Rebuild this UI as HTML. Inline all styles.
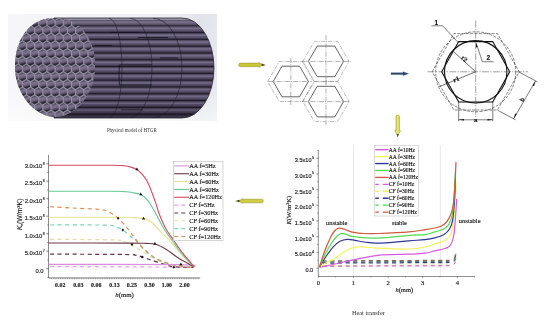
<!DOCTYPE html>
<html><head><meta charset="utf-8"><title>HTGR</title>
<style>html,body{margin:0;padding:0;background:#fff;}svg{display:block;}text{stroke:#222;stroke-width:0.16px;}</style>
</head><body>
<svg width="550" height="323" viewBox="0 0 550 323">
<defs>
<linearGradient id="panel" x1="0" y1="0" x2="1" y2="0">
 <stop offset="0" stop-color="#f6f6f8"/><stop offset="0.75" stop-color="#efeff3"/><stop offset="0.92" stop-color="#e2e3ea"/><stop offset="1" stop-color="#e6e7ee"/>
</linearGradient>
<linearGradient id="panel2" x1="0" y1="0" x2="0" y2="1">
 <stop offset="0" stop-color="#fff" stop-opacity="0"/><stop offset="0.7" stop-color="#fff" stop-opacity="0.1"/><stop offset="1" stop-color="#fff" stop-opacity="0.6"/>
</linearGradient>
<pattern id="tubes" patternUnits="userSpaceOnUse" x="0" y="18.5" width="10" height="6.8">
 <rect width="10" height="6.8" fill="#423a51"/>
 <rect y="0" width="10" height="1.2" fill="#1c1923"/>
 <rect y="1.2" width="10" height="1.0" fill="#544a65"/>
 <rect y="2.2" width="10" height="2.1" fill="#78708c"/>
 <rect y="4.3" width="10" height="1.2" fill="#615876"/>
</pattern>
<linearGradient id="shade" x1="0" y1="0" x2="0" y2="1">
 <stop offset="0" stop-color="#ffffff" stop-opacity="0.18"/><stop offset="0.2" stop-color="#000" stop-opacity="0"/><stop offset="0.8" stop-color="#000" stop-opacity="0.05"/><stop offset="1" stop-color="#000" stop-opacity="0.3"/>
</linearGradient>
<linearGradient id="cell" x1="0.3" y1="0" x2="0.5" y2="1">
 <stop offset="0" stop-color="#443e50"/><stop offset="0.15" stop-color="#564e64"/><stop offset="0.3" stop-color="#7a7189"/><stop offset="0.52" stop-color="#746a85"/><stop offset="0.68" stop-color="#544b62"/><stop offset="0.82" stop-color="#2b2634"/><stop offset="1" stop-color="#3a3545"/>
</linearGradient>
</defs>
<rect width="550" height="323" fill="#fff"/>
<rect x="8" y="14" width="209" height="107" fill="url(#panel)"/>
<rect x="8" y="14" width="209" height="107" fill="url(#panel2)"/>
<path d="M54,18 L182,18 A32,50 0 0 1 182,118 L54,118 Z" fill="url(#tubes)"/>
<path d="M54,18 L182,18 A32,50 0 0 1 182,118 L54,118 Z" fill="url(#shade)"/>
<clipPath id="bodyclip"><path d="M54,18 L182,18 A32,50 0 0 1 182,118 L54,118 Z"/></clipPath>
<path d="M119.4,64.9 H152 M119.4,85 H152 M119.4,64.9 Q118.6,75 119.4,85 M110,32.4 H139.5 M138,37.5 H168 M121,109.8 H143 M95,45.5 H112 M160,58 H178" fill="none" stroke="#16131c" stroke-width="1" opacity="0.8"/>
<g clip-path="url(#bodyclip)"><rect x="54" y="18" width="170" height="2.3" fill="#a09eb0" opacity="0.85"/><rect x="54" y="20.3" width="170" height="1" fill="#3a3648" opacity="0.7"/><rect x="54" y="114" width="170" height="4" fill="#1e1b26" opacity="0.45"/></g>
<path d="M109,18.3 A13,49.7 0 0 1 109,117.7" fill="none" stroke="#1e1c28" stroke-width="0.6"/>
<path d="M130,18.3 A22,49.7 0 0 1 130,117.7" fill="none" stroke="#1e1c28" stroke-width="0.6"/>
<path d="M153,18.3 A29,49.7 0 0 1 153,117.7" fill="none" stroke="#1e1c28" stroke-width="0.6"/>
<path d="M54,18 L182,18 A32,50 0 0 1 182,118 L54,118 Z" fill="none" stroke="#2a2834" stroke-width="0.8"/>
<clipPath id="faceclip"><path d="M95,67.5 L94.84,71.29 L94.36,75.34 L93.57,79.43 L92.46,83.5 L91.07,87.49 L89.38,91.36 L87.42,95.07 L85.21,98.59 L82.77,101.87 L80.12,104.89 L77.28,107.62 L74.28,110.04 L71.16,112.13 L67.93,113.86 L64.64,115.23 L61.33,116.21 L58.07,116.8 L55,117 L51.93,116.8 L48.67,116.21 L45.36,115.23 L42.07,113.86 L38.84,112.13 L35.72,110.04 L32.72,107.62 L29.88,104.89 L27.23,101.87 L24.79,98.59 L22.58,95.07 L20.62,91.36 L18.93,87.49 L17.54,83.5 L16.43,79.43 L15.64,75.34 L15.16,71.29 L15,67.5 L15.14,62.11 L15.55,57.42 L16.24,53.01 L17.2,48.84 L18.42,44.88 L19.9,41.14 L21.63,37.64 L23.61,34.38 L25.81,31.38 L28.23,28.65 L30.87,26.21 L33.7,24.07 L36.72,22.23 L39.92,20.72 L43.29,19.54 L46.86,18.68 L50.65,18.2 L55,18.2 L59.35,18.2 L63.14,18.68 L66.71,19.54 L70.08,20.72 L73.28,22.23 L76.3,24.07 L79.13,26.21 L81.77,28.65 L84.19,31.38 L86.39,34.38 L88.37,37.64 L90.1,41.14 L91.58,44.88 L92.8,48.84 L93.76,53.01 L94.45,57.42 L94.86,62.11 L95,67.5 Z"/></clipPath>
<path d="M95,67.5 L94.84,71.29 L94.36,75.34 L93.57,79.43 L92.46,83.5 L91.07,87.49 L89.38,91.36 L87.42,95.07 L85.21,98.59 L82.77,101.87 L80.12,104.89 L77.28,107.62 L74.28,110.04 L71.16,112.13 L67.93,113.86 L64.64,115.23 L61.33,116.21 L58.07,116.8 L55,117 L51.93,116.8 L48.67,116.21 L45.36,115.23 L42.07,113.86 L38.84,112.13 L35.72,110.04 L32.72,107.62 L29.88,104.89 L27.23,101.87 L24.79,98.59 L22.58,95.07 L20.62,91.36 L18.93,87.49 L17.54,83.5 L16.43,79.43 L15.64,75.34 L15.16,71.29 L15,67.5 L15.14,62.11 L15.55,57.42 L16.24,53.01 L17.2,48.84 L18.42,44.88 L19.9,41.14 L21.63,37.64 L23.61,34.38 L25.81,31.38 L28.23,28.65 L30.87,26.21 L33.7,24.07 L36.72,22.23 L39.92,20.72 L43.29,19.54 L46.86,18.68 L50.65,18.2 L55,18.2 L59.35,18.2 L63.14,18.68 L66.71,19.54 L70.08,20.72 L73.28,22.23 L76.3,24.07 L79.13,26.21 L81.77,28.65 L84.19,31.38 L86.39,34.38 L88.37,37.64 L90.1,41.14 L91.58,44.88 L92.8,48.84 L93.76,53.01 L94.45,57.42 L94.86,62.11 L95,67.5 Z" fill="#9391a3"/>
<g clip-path="url(#faceclip)">
<path d="M14.1,10.7 L17.65,12.95 L17.65,17.45 L14.1,19.7 L10.55,17.45 L10.55,12.95 Z" fill="url(#cell)"/>
<path d="M22.3,10.7 L25.85,12.95 L25.85,17.45 L22.3,19.7 L18.75,17.45 L18.75,12.95 Z" fill="url(#cell)"/>
<path d="M30.5,10.7 L34.05,12.95 L34.05,17.45 L30.5,19.7 L26.95,17.45 L26.95,12.95 Z" fill="url(#cell)"/>
<path d="M38.7,10.7 L42.25,12.95 L42.25,17.45 L38.7,19.7 L35.15,17.45 L35.15,12.95 Z" fill="url(#cell)"/>
<path d="M46.9,10.7 L50.45,12.95 L50.45,17.45 L46.9,19.7 L43.35,17.45 L43.35,12.95 Z" fill="url(#cell)"/>
<path d="M55.1,10.7 L58.65,12.95 L58.65,17.45 L55.1,19.7 L51.55,17.45 L51.55,12.95 Z" fill="url(#cell)"/>
<path d="M63.3,10.7 L66.85,12.95 L66.85,17.45 L63.3,19.7 L59.75,17.45 L59.75,12.95 Z" fill="url(#cell)"/>
<path d="M71.5,10.7 L75.05,12.95 L75.05,17.45 L71.5,19.7 L67.95,17.45 L67.95,12.95 Z" fill="url(#cell)"/>
<path d="M79.7,10.7 L83.25,12.95 L83.25,17.45 L79.7,19.7 L76.15,17.45 L76.15,12.95 Z" fill="url(#cell)"/>
<path d="M87.9,10.7 L91.45,12.95 L91.45,17.45 L87.9,19.7 L84.35,17.45 L84.35,12.95 Z" fill="url(#cell)"/>
<path d="M96.1,10.7 L99.65,12.95 L99.65,17.45 L96.1,19.7 L92.55,17.45 L92.55,12.95 Z" fill="url(#cell)"/>
<path d="M10,18.4 L13.55,20.65 L13.55,25.15 L10,27.4 L6.45,25.15 L6.45,20.65 Z" fill="url(#cell)"/>
<path d="M18.2,18.4 L21.75,20.65 L21.75,25.15 L18.2,27.4 L14.65,25.15 L14.65,20.65 Z" fill="url(#cell)"/>
<path d="M26.4,18.4 L29.95,20.65 L29.95,25.15 L26.4,27.4 L22.85,25.15 L22.85,20.65 Z" fill="url(#cell)"/>
<path d="M34.6,18.4 L38.15,20.65 L38.15,25.15 L34.6,27.4 L31.05,25.15 L31.05,20.65 Z" fill="url(#cell)"/>
<path d="M42.8,18.4 L46.35,20.65 L46.35,25.15 L42.8,27.4 L39.25,25.15 L39.25,20.65 Z" fill="url(#cell)"/>
<path d="M51,18.4 L54.55,20.65 L54.55,25.15 L51,27.4 L47.45,25.15 L47.45,20.65 Z" fill="url(#cell)"/>
<path d="M59.2,18.4 L62.75,20.65 L62.75,25.15 L59.2,27.4 L55.65,25.15 L55.65,20.65 Z" fill="url(#cell)"/>
<path d="M67.4,18.4 L70.95,20.65 L70.95,25.15 L67.4,27.4 L63.85,25.15 L63.85,20.65 Z" fill="url(#cell)"/>
<path d="M75.6,18.4 L79.15,20.65 L79.15,25.15 L75.6,27.4 L72.05,25.15 L72.05,20.65 Z" fill="url(#cell)"/>
<path d="M83.8,18.4 L87.35,20.65 L87.35,25.15 L83.8,27.4 L80.25,25.15 L80.25,20.65 Z" fill="url(#cell)"/>
<path d="M92,18.4 L95.55,20.65 L95.55,25.15 L92,27.4 L88.45,25.15 L88.45,20.65 Z" fill="url(#cell)"/>
<path d="M100.2,18.4 L103.75,20.65 L103.75,25.15 L100.2,27.4 L96.65,25.15 L96.65,20.65 Z" fill="url(#cell)"/>
<path d="M14.1,26.1 L17.65,28.35 L17.65,32.85 L14.1,35.1 L10.55,32.85 L10.55,28.35 Z" fill="url(#cell)"/>
<path d="M22.3,26.1 L25.85,28.35 L25.85,32.85 L22.3,35.1 L18.75,32.85 L18.75,28.35 Z" fill="url(#cell)"/>
<path d="M30.5,26.1 L34.05,28.35 L34.05,32.85 L30.5,35.1 L26.95,32.85 L26.95,28.35 Z" fill="url(#cell)"/>
<path d="M38.7,26.1 L42.25,28.35 L42.25,32.85 L38.7,35.1 L35.15,32.85 L35.15,28.35 Z" fill="url(#cell)"/>
<path d="M46.9,26.1 L50.45,28.35 L50.45,32.85 L46.9,35.1 L43.35,32.85 L43.35,28.35 Z" fill="url(#cell)"/>
<path d="M55.1,26.1 L58.65,28.35 L58.65,32.85 L55.1,35.1 L51.55,32.85 L51.55,28.35 Z" fill="url(#cell)"/>
<path d="M63.3,26.1 L66.85,28.35 L66.85,32.85 L63.3,35.1 L59.75,32.85 L59.75,28.35 Z" fill="url(#cell)"/>
<path d="M71.5,26.1 L75.05,28.35 L75.05,32.85 L71.5,35.1 L67.95,32.85 L67.95,28.35 Z" fill="url(#cell)"/>
<path d="M79.7,26.1 L83.25,28.35 L83.25,32.85 L79.7,35.1 L76.15,32.85 L76.15,28.35 Z" fill="url(#cell)"/>
<path d="M87.9,26.1 L91.45,28.35 L91.45,32.85 L87.9,35.1 L84.35,32.85 L84.35,28.35 Z" fill="url(#cell)"/>
<path d="M96.1,26.1 L99.65,28.35 L99.65,32.85 L96.1,35.1 L92.55,32.85 L92.55,28.35 Z" fill="url(#cell)"/>
<path d="M10,33.8 L13.55,36.05 L13.55,40.55 L10,42.8 L6.45,40.55 L6.45,36.05 Z" fill="url(#cell)"/>
<path d="M18.2,33.8 L21.75,36.05 L21.75,40.55 L18.2,42.8 L14.65,40.55 L14.65,36.05 Z" fill="url(#cell)"/>
<path d="M26.4,33.8 L29.95,36.05 L29.95,40.55 L26.4,42.8 L22.85,40.55 L22.85,36.05 Z" fill="url(#cell)"/>
<path d="M34.6,33.8 L38.15,36.05 L38.15,40.55 L34.6,42.8 L31.05,40.55 L31.05,36.05 Z" fill="url(#cell)"/>
<path d="M42.8,33.8 L46.35,36.05 L46.35,40.55 L42.8,42.8 L39.25,40.55 L39.25,36.05 Z" fill="url(#cell)"/>
<path d="M51,33.8 L54.55,36.05 L54.55,40.55 L51,42.8 L47.45,40.55 L47.45,36.05 Z" fill="url(#cell)"/>
<path d="M59.2,33.8 L62.75,36.05 L62.75,40.55 L59.2,42.8 L55.65,40.55 L55.65,36.05 Z" fill="url(#cell)"/>
<path d="M67.4,33.8 L70.95,36.05 L70.95,40.55 L67.4,42.8 L63.85,40.55 L63.85,36.05 Z" fill="url(#cell)"/>
<path d="M75.6,33.8 L79.15,36.05 L79.15,40.55 L75.6,42.8 L72.05,40.55 L72.05,36.05 Z" fill="url(#cell)"/>
<path d="M83.8,33.8 L87.35,36.05 L87.35,40.55 L83.8,42.8 L80.25,40.55 L80.25,36.05 Z" fill="url(#cell)"/>
<path d="M92,33.8 L95.55,36.05 L95.55,40.55 L92,42.8 L88.45,40.55 L88.45,36.05 Z" fill="url(#cell)"/>
<path d="M100.2,33.8 L103.75,36.05 L103.75,40.55 L100.2,42.8 L96.65,40.55 L96.65,36.05 Z" fill="url(#cell)"/>
<path d="M14.1,41.5 L17.65,43.75 L17.65,48.25 L14.1,50.5 L10.55,48.25 L10.55,43.75 Z" fill="url(#cell)"/>
<path d="M22.3,41.5 L25.85,43.75 L25.85,48.25 L22.3,50.5 L18.75,48.25 L18.75,43.75 Z" fill="url(#cell)"/>
<path d="M30.5,41.5 L34.05,43.75 L34.05,48.25 L30.5,50.5 L26.95,48.25 L26.95,43.75 Z" fill="url(#cell)"/>
<path d="M38.7,41.5 L42.25,43.75 L42.25,48.25 L38.7,50.5 L35.15,48.25 L35.15,43.75 Z" fill="url(#cell)"/>
<path d="M46.9,41.5 L50.45,43.75 L50.45,48.25 L46.9,50.5 L43.35,48.25 L43.35,43.75 Z" fill="url(#cell)"/>
<path d="M55.1,41.5 L58.65,43.75 L58.65,48.25 L55.1,50.5 L51.55,48.25 L51.55,43.75 Z" fill="url(#cell)"/>
<path d="M63.3,41.5 L66.85,43.75 L66.85,48.25 L63.3,50.5 L59.75,48.25 L59.75,43.75 Z" fill="url(#cell)"/>
<path d="M71.5,41.5 L75.05,43.75 L75.05,48.25 L71.5,50.5 L67.95,48.25 L67.95,43.75 Z" fill="url(#cell)"/>
<path d="M79.7,41.5 L83.25,43.75 L83.25,48.25 L79.7,50.5 L76.15,48.25 L76.15,43.75 Z" fill="url(#cell)"/>
<path d="M87.9,41.5 L91.45,43.75 L91.45,48.25 L87.9,50.5 L84.35,48.25 L84.35,43.75 Z" fill="url(#cell)"/>
<path d="M96.1,41.5 L99.65,43.75 L99.65,48.25 L96.1,50.5 L92.55,48.25 L92.55,43.75 Z" fill="url(#cell)"/>
<path d="M10,49.2 L13.55,51.45 L13.55,55.95 L10,58.2 L6.45,55.95 L6.45,51.45 Z" fill="url(#cell)"/>
<path d="M18.2,49.2 L21.75,51.45 L21.75,55.95 L18.2,58.2 L14.65,55.95 L14.65,51.45 Z" fill="url(#cell)"/>
<path d="M26.4,49.2 L29.95,51.45 L29.95,55.95 L26.4,58.2 L22.85,55.95 L22.85,51.45 Z" fill="url(#cell)"/>
<path d="M34.6,49.2 L38.15,51.45 L38.15,55.95 L34.6,58.2 L31.05,55.95 L31.05,51.45 Z" fill="url(#cell)"/>
<path d="M42.8,49.2 L46.35,51.45 L46.35,55.95 L42.8,58.2 L39.25,55.95 L39.25,51.45 Z" fill="url(#cell)"/>
<path d="M51,49.2 L54.55,51.45 L54.55,55.95 L51,58.2 L47.45,55.95 L47.45,51.45 Z" fill="url(#cell)"/>
<path d="M59.2,49.2 L62.75,51.45 L62.75,55.95 L59.2,58.2 L55.65,55.95 L55.65,51.45 Z" fill="url(#cell)"/>
<path d="M67.4,49.2 L70.95,51.45 L70.95,55.95 L67.4,58.2 L63.85,55.95 L63.85,51.45 Z" fill="url(#cell)"/>
<path d="M75.6,49.2 L79.15,51.45 L79.15,55.95 L75.6,58.2 L72.05,55.95 L72.05,51.45 Z" fill="url(#cell)"/>
<path d="M83.8,49.2 L87.35,51.45 L87.35,55.95 L83.8,58.2 L80.25,55.95 L80.25,51.45 Z" fill="url(#cell)"/>
<path d="M92,49.2 L95.55,51.45 L95.55,55.95 L92,58.2 L88.45,55.95 L88.45,51.45 Z" fill="url(#cell)"/>
<path d="M100.2,49.2 L103.75,51.45 L103.75,55.95 L100.2,58.2 L96.65,55.95 L96.65,51.45 Z" fill="url(#cell)"/>
<path d="M14.1,56.9 L17.65,59.15 L17.65,63.65 L14.1,65.9 L10.55,63.65 L10.55,59.15 Z" fill="url(#cell)"/>
<path d="M22.3,56.9 L25.85,59.15 L25.85,63.65 L22.3,65.9 L18.75,63.65 L18.75,59.15 Z" fill="url(#cell)"/>
<path d="M30.5,56.9 L34.05,59.15 L34.05,63.65 L30.5,65.9 L26.95,63.65 L26.95,59.15 Z" fill="url(#cell)"/>
<path d="M38.7,56.9 L42.25,59.15 L42.25,63.65 L38.7,65.9 L35.15,63.65 L35.15,59.15 Z" fill="url(#cell)"/>
<path d="M46.9,56.9 L50.45,59.15 L50.45,63.65 L46.9,65.9 L43.35,63.65 L43.35,59.15 Z" fill="url(#cell)"/>
<path d="M55.1,56.9 L58.65,59.15 L58.65,63.65 L55.1,65.9 L51.55,63.65 L51.55,59.15 Z" fill="url(#cell)"/>
<path d="M63.3,56.9 L66.85,59.15 L66.85,63.65 L63.3,65.9 L59.75,63.65 L59.75,59.15 Z" fill="url(#cell)"/>
<path d="M71.5,56.9 L75.05,59.15 L75.05,63.65 L71.5,65.9 L67.95,63.65 L67.95,59.15 Z" fill="url(#cell)"/>
<path d="M79.7,56.9 L83.25,59.15 L83.25,63.65 L79.7,65.9 L76.15,63.65 L76.15,59.15 Z" fill="url(#cell)"/>
<path d="M87.9,56.9 L91.45,59.15 L91.45,63.65 L87.9,65.9 L84.35,63.65 L84.35,59.15 Z" fill="url(#cell)"/>
<path d="M96.1,56.9 L99.65,59.15 L99.65,63.65 L96.1,65.9 L92.55,63.65 L92.55,59.15 Z" fill="url(#cell)"/>
<path d="M10,64.6 L13.55,66.85 L13.55,71.35 L10,73.6 L6.45,71.35 L6.45,66.85 Z" fill="url(#cell)"/>
<path d="M18.2,64.6 L21.75,66.85 L21.75,71.35 L18.2,73.6 L14.65,71.35 L14.65,66.85 Z" fill="url(#cell)"/>
<path d="M26.4,64.6 L29.95,66.85 L29.95,71.35 L26.4,73.6 L22.85,71.35 L22.85,66.85 Z" fill="url(#cell)"/>
<path d="M34.6,64.6 L38.15,66.85 L38.15,71.35 L34.6,73.6 L31.05,71.35 L31.05,66.85 Z" fill="url(#cell)"/>
<path d="M42.8,64.6 L46.35,66.85 L46.35,71.35 L42.8,73.6 L39.25,71.35 L39.25,66.85 Z" fill="url(#cell)"/>
<path d="M51,64.6 L54.55,66.85 L54.55,71.35 L51,73.6 L47.45,71.35 L47.45,66.85 Z" fill="url(#cell)"/>
<path d="M59.2,64.6 L62.75,66.85 L62.75,71.35 L59.2,73.6 L55.65,71.35 L55.65,66.85 Z" fill="url(#cell)"/>
<path d="M67.4,64.6 L70.95,66.85 L70.95,71.35 L67.4,73.6 L63.85,71.35 L63.85,66.85 Z" fill="url(#cell)"/>
<path d="M75.6,64.6 L79.15,66.85 L79.15,71.35 L75.6,73.6 L72.05,71.35 L72.05,66.85 Z" fill="url(#cell)"/>
<path d="M83.8,64.6 L87.35,66.85 L87.35,71.35 L83.8,73.6 L80.25,71.35 L80.25,66.85 Z" fill="url(#cell)"/>
<path d="M92,64.6 L95.55,66.85 L95.55,71.35 L92,73.6 L88.45,71.35 L88.45,66.85 Z" fill="url(#cell)"/>
<path d="M100.2,64.6 L103.75,66.85 L103.75,71.35 L100.2,73.6 L96.65,71.35 L96.65,66.85 Z" fill="url(#cell)"/>
<path d="M14.1,72.3 L17.65,74.55 L17.65,79.05 L14.1,81.3 L10.55,79.05 L10.55,74.55 Z" fill="url(#cell)"/>
<path d="M22.3,72.3 L25.85,74.55 L25.85,79.05 L22.3,81.3 L18.75,79.05 L18.75,74.55 Z" fill="url(#cell)"/>
<path d="M30.5,72.3 L34.05,74.55 L34.05,79.05 L30.5,81.3 L26.95,79.05 L26.95,74.55 Z" fill="url(#cell)"/>
<path d="M38.7,72.3 L42.25,74.55 L42.25,79.05 L38.7,81.3 L35.15,79.05 L35.15,74.55 Z" fill="url(#cell)"/>
<path d="M46.9,72.3 L50.45,74.55 L50.45,79.05 L46.9,81.3 L43.35,79.05 L43.35,74.55 Z" fill="url(#cell)"/>
<path d="M55.1,72.3 L58.65,74.55 L58.65,79.05 L55.1,81.3 L51.55,79.05 L51.55,74.55 Z" fill="url(#cell)"/>
<path d="M63.3,72.3 L66.85,74.55 L66.85,79.05 L63.3,81.3 L59.75,79.05 L59.75,74.55 Z" fill="url(#cell)"/>
<path d="M71.5,72.3 L75.05,74.55 L75.05,79.05 L71.5,81.3 L67.95,79.05 L67.95,74.55 Z" fill="url(#cell)"/>
<path d="M79.7,72.3 L83.25,74.55 L83.25,79.05 L79.7,81.3 L76.15,79.05 L76.15,74.55 Z" fill="url(#cell)"/>
<path d="M87.9,72.3 L91.45,74.55 L91.45,79.05 L87.9,81.3 L84.35,79.05 L84.35,74.55 Z" fill="url(#cell)"/>
<path d="M96.1,72.3 L99.65,74.55 L99.65,79.05 L96.1,81.3 L92.55,79.05 L92.55,74.55 Z" fill="url(#cell)"/>
<path d="M10,80 L13.55,82.25 L13.55,86.75 L10,89 L6.45,86.75 L6.45,82.25 Z" fill="url(#cell)"/>
<path d="M18.2,80 L21.75,82.25 L21.75,86.75 L18.2,89 L14.65,86.75 L14.65,82.25 Z" fill="url(#cell)"/>
<path d="M26.4,80 L29.95,82.25 L29.95,86.75 L26.4,89 L22.85,86.75 L22.85,82.25 Z" fill="url(#cell)"/>
<path d="M34.6,80 L38.15,82.25 L38.15,86.75 L34.6,89 L31.05,86.75 L31.05,82.25 Z" fill="url(#cell)"/>
<path d="M42.8,80 L46.35,82.25 L46.35,86.75 L42.8,89 L39.25,86.75 L39.25,82.25 Z" fill="url(#cell)"/>
<path d="M51,80 L54.55,82.25 L54.55,86.75 L51,89 L47.45,86.75 L47.45,82.25 Z" fill="url(#cell)"/>
<path d="M59.2,80 L62.75,82.25 L62.75,86.75 L59.2,89 L55.65,86.75 L55.65,82.25 Z" fill="url(#cell)"/>
<path d="M67.4,80 L70.95,82.25 L70.95,86.75 L67.4,89 L63.85,86.75 L63.85,82.25 Z" fill="url(#cell)"/>
<path d="M75.6,80 L79.15,82.25 L79.15,86.75 L75.6,89 L72.05,86.75 L72.05,82.25 Z" fill="url(#cell)"/>
<path d="M83.8,80 L87.35,82.25 L87.35,86.75 L83.8,89 L80.25,86.75 L80.25,82.25 Z" fill="url(#cell)"/>
<path d="M92,80 L95.55,82.25 L95.55,86.75 L92,89 L88.45,86.75 L88.45,82.25 Z" fill="url(#cell)"/>
<path d="M100.2,80 L103.75,82.25 L103.75,86.75 L100.2,89 L96.65,86.75 L96.65,82.25 Z" fill="url(#cell)"/>
<path d="M14.1,87.7 L17.65,89.95 L17.65,94.45 L14.1,96.7 L10.55,94.45 L10.55,89.95 Z" fill="url(#cell)"/>
<path d="M22.3,87.7 L25.85,89.95 L25.85,94.45 L22.3,96.7 L18.75,94.45 L18.75,89.95 Z" fill="url(#cell)"/>
<path d="M30.5,87.7 L34.05,89.95 L34.05,94.45 L30.5,96.7 L26.95,94.45 L26.95,89.95 Z" fill="url(#cell)"/>
<path d="M38.7,87.7 L42.25,89.95 L42.25,94.45 L38.7,96.7 L35.15,94.45 L35.15,89.95 Z" fill="url(#cell)"/>
<path d="M46.9,87.7 L50.45,89.95 L50.45,94.45 L46.9,96.7 L43.35,94.45 L43.35,89.95 Z" fill="url(#cell)"/>
<path d="M55.1,87.7 L58.65,89.95 L58.65,94.45 L55.1,96.7 L51.55,94.45 L51.55,89.95 Z" fill="url(#cell)"/>
<path d="M63.3,87.7 L66.85,89.95 L66.85,94.45 L63.3,96.7 L59.75,94.45 L59.75,89.95 Z" fill="url(#cell)"/>
<path d="M71.5,87.7 L75.05,89.95 L75.05,94.45 L71.5,96.7 L67.95,94.45 L67.95,89.95 Z" fill="url(#cell)"/>
<path d="M79.7,87.7 L83.25,89.95 L83.25,94.45 L79.7,96.7 L76.15,94.45 L76.15,89.95 Z" fill="url(#cell)"/>
<path d="M87.9,87.7 L91.45,89.95 L91.45,94.45 L87.9,96.7 L84.35,94.45 L84.35,89.95 Z" fill="url(#cell)"/>
<path d="M96.1,87.7 L99.65,89.95 L99.65,94.45 L96.1,96.7 L92.55,94.45 L92.55,89.95 Z" fill="url(#cell)"/>
<path d="M10,95.4 L13.55,97.65 L13.55,102.15 L10,104.4 L6.45,102.15 L6.45,97.65 Z" fill="url(#cell)"/>
<path d="M18.2,95.4 L21.75,97.65 L21.75,102.15 L18.2,104.4 L14.65,102.15 L14.65,97.65 Z" fill="url(#cell)"/>
<path d="M26.4,95.4 L29.95,97.65 L29.95,102.15 L26.4,104.4 L22.85,102.15 L22.85,97.65 Z" fill="url(#cell)"/>
<path d="M34.6,95.4 L38.15,97.65 L38.15,102.15 L34.6,104.4 L31.05,102.15 L31.05,97.65 Z" fill="url(#cell)"/>
<path d="M42.8,95.4 L46.35,97.65 L46.35,102.15 L42.8,104.4 L39.25,102.15 L39.25,97.65 Z" fill="url(#cell)"/>
<path d="M51,95.4 L54.55,97.65 L54.55,102.15 L51,104.4 L47.45,102.15 L47.45,97.65 Z" fill="url(#cell)"/>
<path d="M59.2,95.4 L62.75,97.65 L62.75,102.15 L59.2,104.4 L55.65,102.15 L55.65,97.65 Z" fill="url(#cell)"/>
<path d="M67.4,95.4 L70.95,97.65 L70.95,102.15 L67.4,104.4 L63.85,102.15 L63.85,97.65 Z" fill="url(#cell)"/>
<path d="M75.6,95.4 L79.15,97.65 L79.15,102.15 L75.6,104.4 L72.05,102.15 L72.05,97.65 Z" fill="url(#cell)"/>
<path d="M83.8,95.4 L87.35,97.65 L87.35,102.15 L83.8,104.4 L80.25,102.15 L80.25,97.65 Z" fill="url(#cell)"/>
<path d="M92,95.4 L95.55,97.65 L95.55,102.15 L92,104.4 L88.45,102.15 L88.45,97.65 Z" fill="url(#cell)"/>
<path d="M100.2,95.4 L103.75,97.65 L103.75,102.15 L100.2,104.4 L96.65,102.15 L96.65,97.65 Z" fill="url(#cell)"/>
<path d="M14.1,103.1 L17.65,105.35 L17.65,109.85 L14.1,112.1 L10.55,109.85 L10.55,105.35 Z" fill="url(#cell)"/>
<path d="M22.3,103.1 L25.85,105.35 L25.85,109.85 L22.3,112.1 L18.75,109.85 L18.75,105.35 Z" fill="url(#cell)"/>
<path d="M30.5,103.1 L34.05,105.35 L34.05,109.85 L30.5,112.1 L26.95,109.85 L26.95,105.35 Z" fill="url(#cell)"/>
<path d="M38.7,103.1 L42.25,105.35 L42.25,109.85 L38.7,112.1 L35.15,109.85 L35.15,105.35 Z" fill="url(#cell)"/>
<path d="M46.9,103.1 L50.45,105.35 L50.45,109.85 L46.9,112.1 L43.35,109.85 L43.35,105.35 Z" fill="url(#cell)"/>
<path d="M55.1,103.1 L58.65,105.35 L58.65,109.85 L55.1,112.1 L51.55,109.85 L51.55,105.35 Z" fill="url(#cell)"/>
<path d="M63.3,103.1 L66.85,105.35 L66.85,109.85 L63.3,112.1 L59.75,109.85 L59.75,105.35 Z" fill="url(#cell)"/>
<path d="M71.5,103.1 L75.05,105.35 L75.05,109.85 L71.5,112.1 L67.95,109.85 L67.95,105.35 Z" fill="url(#cell)"/>
<path d="M79.7,103.1 L83.25,105.35 L83.25,109.85 L79.7,112.1 L76.15,109.85 L76.15,105.35 Z" fill="url(#cell)"/>
<path d="M87.9,103.1 L91.45,105.35 L91.45,109.85 L87.9,112.1 L84.35,109.85 L84.35,105.35 Z" fill="url(#cell)"/>
<path d="M96.1,103.1 L99.65,105.35 L99.65,109.85 L96.1,112.1 L92.55,109.85 L92.55,105.35 Z" fill="url(#cell)"/>
<path d="M10,110.8 L13.55,113.05 L13.55,117.55 L10,119.8 L6.45,117.55 L6.45,113.05 Z" fill="url(#cell)"/>
<path d="M18.2,110.8 L21.75,113.05 L21.75,117.55 L18.2,119.8 L14.65,117.55 L14.65,113.05 Z" fill="url(#cell)"/>
<path d="M26.4,110.8 L29.95,113.05 L29.95,117.55 L26.4,119.8 L22.85,117.55 L22.85,113.05 Z" fill="url(#cell)"/>
<path d="M34.6,110.8 L38.15,113.05 L38.15,117.55 L34.6,119.8 L31.05,117.55 L31.05,113.05 Z" fill="url(#cell)"/>
<path d="M42.8,110.8 L46.35,113.05 L46.35,117.55 L42.8,119.8 L39.25,117.55 L39.25,113.05 Z" fill="url(#cell)"/>
<path d="M51,110.8 L54.55,113.05 L54.55,117.55 L51,119.8 L47.45,117.55 L47.45,113.05 Z" fill="url(#cell)"/>
<path d="M59.2,110.8 L62.75,113.05 L62.75,117.55 L59.2,119.8 L55.65,117.55 L55.65,113.05 Z" fill="url(#cell)"/>
<path d="M67.4,110.8 L70.95,113.05 L70.95,117.55 L67.4,119.8 L63.85,117.55 L63.85,113.05 Z" fill="url(#cell)"/>
<path d="M75.6,110.8 L79.15,113.05 L79.15,117.55 L75.6,119.8 L72.05,117.55 L72.05,113.05 Z" fill="url(#cell)"/>
<path d="M83.8,110.8 L87.35,113.05 L87.35,117.55 L83.8,119.8 L80.25,117.55 L80.25,113.05 Z" fill="url(#cell)"/>
<path d="M92,110.8 L95.55,113.05 L95.55,117.55 L92,119.8 L88.45,117.55 L88.45,113.05 Z" fill="url(#cell)"/>
<path d="M100.2,110.8 L103.75,113.05 L103.75,117.55 L100.2,119.8 L96.65,117.55 L96.65,113.05 Z" fill="url(#cell)"/>
<path d="M14.1,118.5 L17.65,120.75 L17.65,125.25 L14.1,127.5 L10.55,125.25 L10.55,120.75 Z" fill="url(#cell)"/>
<path d="M22.3,118.5 L25.85,120.75 L25.85,125.25 L22.3,127.5 L18.75,125.25 L18.75,120.75 Z" fill="url(#cell)"/>
<path d="M30.5,118.5 L34.05,120.75 L34.05,125.25 L30.5,127.5 L26.95,125.25 L26.95,120.75 Z" fill="url(#cell)"/>
<path d="M38.7,118.5 L42.25,120.75 L42.25,125.25 L38.7,127.5 L35.15,125.25 L35.15,120.75 Z" fill="url(#cell)"/>
<path d="M46.9,118.5 L50.45,120.75 L50.45,125.25 L46.9,127.5 L43.35,125.25 L43.35,120.75 Z" fill="url(#cell)"/>
<path d="M55.1,118.5 L58.65,120.75 L58.65,125.25 L55.1,127.5 L51.55,125.25 L51.55,120.75 Z" fill="url(#cell)"/>
<path d="M63.3,118.5 L66.85,120.75 L66.85,125.25 L63.3,127.5 L59.75,125.25 L59.75,120.75 Z" fill="url(#cell)"/>
<path d="M71.5,118.5 L75.05,120.75 L75.05,125.25 L71.5,127.5 L67.95,125.25 L67.95,120.75 Z" fill="url(#cell)"/>
<path d="M79.7,118.5 L83.25,120.75 L83.25,125.25 L79.7,127.5 L76.15,125.25 L76.15,120.75 Z" fill="url(#cell)"/>
<path d="M87.9,118.5 L91.45,120.75 L91.45,125.25 L87.9,127.5 L84.35,125.25 L84.35,120.75 Z" fill="url(#cell)"/>
<path d="M96.1,118.5 L99.65,120.75 L99.65,125.25 L96.1,127.5 L92.55,125.25 L92.55,120.75 Z" fill="url(#cell)"/>
</g>
<text x="131.9" y="132" font-family="Liberation Serif, Times New Roman, serif" font-size="5.4" text-anchor="middle" fill="#333" style="stroke:none" textLength="50" lengthAdjust="spacingAndGlyphs">Physical model of HTGR</text>
<path d="M273.2,81.5 L282,66.2 L299.6,66.2 L308.4,81.5 L299.6,96.8 L282,96.8 Z" fill="none" stroke="#333" stroke-width="0.75"/>
<path d="M267.6,81.5 L279.2,61.5 L302.4,61.5 L314,81.5 L302.4,101.5 L279.2,101.5 Z" fill="none" stroke="#666" stroke-width="0.45" stroke-dasharray="4 1.2 1 1.2"/>
<path d="M308.4,61.4 L317.2,46.1 L334.8,46.1 L343.6,61.4 L334.8,76.7 L317.2,76.7 Z" fill="none" stroke="#333" stroke-width="0.75"/>
<path d="M302.8,61.4 L314.4,41.4 L337.6,41.4 L349.2,61.4 L337.6,81.4 L314.4,81.4 Z" fill="none" stroke="#666" stroke-width="0.45" stroke-dasharray="4 1.2 1 1.2"/>
<path d="M308.4,101.6 L317.2,86.3 L334.8,86.3 L343.6,101.6 L334.8,116.9 L317.2,116.9 Z" fill="none" stroke="#333" stroke-width="0.75"/>
<path d="M302.8,101.6 L314.4,81.6 L337.6,81.6 L349.2,101.6 L337.6,121.6 L314.4,121.6 Z" fill="none" stroke="#666" stroke-width="0.45" stroke-dasharray="4 1.2 1 1.2"/>
<path d="M268,81.5 H312 M290.8,58 V105" stroke="#555" stroke-width="0.45" stroke-dasharray="5 1.2 1 1.2" fill="none"/>
<path d="M302,61.4 H352 M326,35 V85" stroke="#555" stroke-width="0.45" stroke-dasharray="5 1.2 1 1.2" fill="none"/>
<path d="M302,101.6 H350 M326,80 V125" stroke="#555" stroke-width="0.45" stroke-dasharray="5 1.2 1 1.2" fill="none"/>
<path d="M432.2,71.8 L453.95,33.6 L497.45,33.6 L519.2,71.8 L497.45,110 L453.95,110 Z" fill="none" stroke="#333" stroke-width="0.6" stroke-dasharray="3 1.3"/>
<circle cx="475.7" cy="71.8" r="40" fill="none" stroke="#333" stroke-width="0.6" stroke-dasharray="3 1.3"/>
<path d="M441.7,71.8 L458.7,41.6 L492.7,41.6 L509.7,71.8 L492.7,102 L458.7,102 Z" fill="none" stroke="#111" stroke-width="1.1"/>
<circle cx="475.7" cy="71.8" r="31.2" fill="none" stroke="#111" stroke-width="1.1"/>
<path d="M427.5,71.8 H528 M475.7,20.5 V117" stroke="#444" stroke-width="0.5" stroke-dasharray="7 1.3 1.3 1.3" fill="none"/>
<path d="M431.5,25.8 H442.7 L458.6,43" fill="none" stroke="#111" stroke-width="0.55"/>
<text x="436.2" y="24.5" font-family="Liberation Sans, sans-serif" font-size="6.5" font-weight="bold" text-anchor="middle" fill="#111">1</text>
<path d="M476.2,43.2 L482.4,61.7 H493.5" fill="none" stroke="#111" stroke-width="0.55"/>
<path d="M476.2,43.2 L475.9,47.5 L477.6,47 Z" fill="#111"/>
<text x="488.3" y="60.3" font-family="Liberation Sans, sans-serif" font-size="6.5" font-weight="bold" text-anchor="middle" fill="#111">2</text>
<path d="M475.7,71.8 L453.8,51.8" fill="none" stroke="#111" stroke-width="0.6"/>
<text x="463.6" y="60.6" font-family="Liberation Serif, serif" font-size="6.5" font-weight="bold" fill="#111" text-anchor="middle" transform="rotate(42 463.6 59.6)">r2</text>
<path d="M475.7,71.8 L439.3,86.6" fill="none" stroke="#111" stroke-width="0.6"/>
<text x="456" y="81.4" font-family="Liberation Serif, serif" font-size="6.5" font-weight="bold" fill="#111" text-anchor="middle" transform="rotate(-22 456 79.2)">r1</text>
<path d="M458.7,101.5 V121 M492.8,101.5 V121 M458.7,119.8 H492.8" fill="none" stroke="#111" stroke-width="0.55"/>
<path d="M458.7,119.8 L464,119 L464,120.6 Z M492.8,119.8 L487.5,119 L487.5,120.6 Z" fill="#111"/>
<text x="475.6" y="121.5" font-family="Liberation Sans, sans-serif" font-size="6" font-weight="bold" text-anchor="middle" fill="#111">a</text>
<path d="M518.5,71.8 L537.5,81.9 M497.6,110.2 L515.5,119.8 M535.6,80.9 L513.6,118.8" fill="none" stroke="#111" stroke-width="0.55"/>
<path d="M535.6,80.9 L532.4,85.6 L534,86.2 Z M513.6,118.8 L516.8,114.1 L515.2,113.5 Z" fill="#111"/>
<text x="522.5" y="101.5" font-family="Liberation Sans, sans-serif" font-size="6" font-weight="bold" text-anchor="middle" fill="#111" transform="rotate(-60 522.5 100)">b</text>
<path d="M240.5,63.1 H259 V62.5 L262.6,64.9 L259,67.3 V66.7 H240.5 A1.8,1.8 0 0 1 240.5,63.1 Z" fill="#c9c83a" stroke="#8a8a20" stroke-width="0.5"/>
<path d="M261.6,63.6 L265.8,64.9 L261.6,66.2 Z" fill="#4a4a1c"/>
<path d="M391,72.8 H403 V71.8 L408.5,73.7 L403,75.6 V74.6 H391 Z" fill="#2c4a70" stroke="#22385a" stroke-width="0.3"/>
<path d="M396,116.3 A1.7,1.2 0 0 1 399.4,116.3 V130.6 H400.5 L397.7,135.8 L394.9,130.6 H396 Z" fill="#e4e470" stroke="#8d8a20" stroke-width="0.55"/>
<path d="M396.5,134.2 L397.7,137.3 L398.9,134.2 Z" fill="#4a4a1c"/>
<path d="M261.5,199.2 H242.8 V198.6 L238.5,201 L242.8,203.4 V202.8 H261.5 A1.8,1.8 0 0 0 261.5,199.2 Z" fill="#cfcd40" stroke="#8a8a20" stroke-width="0.5"/>
<path d="M239.5,199.7 L235.2,201 L239.5,202.3 Z" fill="#4a4a1c"/>
<path d="M48.5,154.8 V277.9 H200.2" fill="none" stroke="#3a3a3a" stroke-width="0.6"/>
<path d="M46.3,163.7 H48.5" stroke="#333" stroke-width="0.6"/>
<path d="M47.2,172.45 H48.5" stroke="#333" stroke-width="0.5"/>
<text x="42.4" y="167.8" font-family="Liberation Sans, Arial, sans-serif" font-size="5.9" text-anchor="end" fill="#1a1a1a">3.0x10</text>
<text x="42.7" y="164.5" font-family="Liberation Sans, Arial, sans-serif" font-size="3.6" fill="#1a1a1a">8</text>
<path d="M46.3,181.2 H48.5" stroke="#333" stroke-width="0.6"/>
<path d="M47.2,189.95 H48.5" stroke="#333" stroke-width="0.5"/>
<text x="42.4" y="185.3" font-family="Liberation Sans, Arial, sans-serif" font-size="5.9" text-anchor="end" fill="#1a1a1a">2.5x10</text>
<text x="42.7" y="182" font-family="Liberation Sans, Arial, sans-serif" font-size="3.6" fill="#1a1a1a">8</text>
<path d="M46.3,198.7 H48.5" stroke="#333" stroke-width="0.6"/>
<path d="M47.2,207.45 H48.5" stroke="#333" stroke-width="0.5"/>
<text x="42.4" y="202.8" font-family="Liberation Sans, Arial, sans-serif" font-size="5.9" text-anchor="end" fill="#1a1a1a">2.0x10</text>
<text x="42.7" y="199.5" font-family="Liberation Sans, Arial, sans-serif" font-size="3.6" fill="#1a1a1a">8</text>
<path d="M46.3,216.2 H48.5" stroke="#333" stroke-width="0.6"/>
<path d="M47.2,224.95 H48.5" stroke="#333" stroke-width="0.5"/>
<text x="42.4" y="220.3" font-family="Liberation Sans, Arial, sans-serif" font-size="5.9" text-anchor="end" fill="#1a1a1a">1.5x10</text>
<text x="42.7" y="217" font-family="Liberation Sans, Arial, sans-serif" font-size="3.6" fill="#1a1a1a">8</text>
<path d="M46.3,233.7 H48.5" stroke="#333" stroke-width="0.6"/>
<path d="M47.2,242.45 H48.5" stroke="#333" stroke-width="0.5"/>
<text x="42.4" y="237.8" font-family="Liberation Sans, Arial, sans-serif" font-size="5.9" text-anchor="end" fill="#1a1a1a">1.0x10</text>
<text x="42.7" y="234.5" font-family="Liberation Sans, Arial, sans-serif" font-size="3.6" fill="#1a1a1a">8</text>
<path d="M46.3,251.2 H48.5" stroke="#333" stroke-width="0.6"/>
<path d="M47.2,259.95 H48.5" stroke="#333" stroke-width="0.5"/>
<text x="42.4" y="255.3" font-family="Liberation Sans, Arial, sans-serif" font-size="5.9" text-anchor="end" fill="#1a1a1a">5.0x10</text>
<text x="42.7" y="252" font-family="Liberation Sans, Arial, sans-serif" font-size="3.6" fill="#1a1a1a">7</text>
<path d="M46.3,268.7 H48.5" stroke="#333" stroke-width="0.6"/>
<path d="M47.2,277.45 H48.5" stroke="#333" stroke-width="0.5"/>
<text x="43.6" y="272.8" font-family="Liberation Sans, Arial, sans-serif" font-size="5.9" text-anchor="end" fill="#1a1a1a">0.0</text>
<path d="M50,277.9 v1.3 M51.75,277.9 v1.3 M53.5,277.9 v1.3 M55.25,277.9 v1.3 M57,277.9 v1.3 M58.75,277.9 v1.3 M60.5,277.9 v1.3 M62.25,277.9 v1.3 M64,277.9 v1.3 M65.75,277.9 v1.3 M67.5,277.9 v1.3 M69.25,277.9 v1.3 M71,277.9 v1.3 M72.75,277.9 v1.3 M74.5,277.9 v1.3 M76.25,277.9 v1.3 M78,277.9 v1.3 M79.75,277.9 v1.3 M81.5,277.9 v1.3 M83.25,277.9 v1.3 M85,277.9 v1.3 M86.75,277.9 v1.3 M88.5,277.9 v1.3 M90.25,277.9 v1.3 M92,277.9 v1.3 M93.75,277.9 v1.3 M95.5,277.9 v1.3 M97.25,277.9 v1.3 M99,277.9 v1.3 M100.75,277.9 v1.3 M102.5,277.9 v1.3 M104.25,277.9 v1.3 M106,277.9 v1.3 M107.75,277.9 v1.3 M109.5,277.9 v1.3 M111.25,277.9 v1.3 M113,277.9 v1.3 M114.75,277.9 v1.3 M116.5,277.9 v1.3 M118.25,277.9 v1.3 M120,277.9 v1.3 M121.75,277.9 v1.3 M123.5,277.9 v1.3 M125.25,277.9 v1.3 M127,277.9 v1.3 M128.75,277.9 v1.3 M130.5,277.9 v1.3 M132.25,277.9 v1.3 M134,277.9 v1.3 M135.75,277.9 v1.3 M137.5,277.9 v1.3 M139.25,277.9 v1.3 M141,277.9 v1.3 M142.75,277.9 v1.3 M144.5,277.9 v1.3 M146.25,277.9 v1.3 M148,277.9 v1.3 M149.75,277.9 v1.3 M151.5,277.9 v1.3 M153.25,277.9 v1.3 M155,277.9 v1.3 M156.75,277.9 v1.3 M158.5,277.9 v1.3 M160.25,277.9 v1.3 M162,277.9 v1.3 M163.75,277.9 v1.3 M165.5,277.9 v1.3 M167.25,277.9 v1.3 M169,277.9 v1.3 M170.75,277.9 v1.3 M172.5,277.9 v1.3 M174.25,277.9 v1.3 M176,277.9 v1.3 M177.75,277.9 v1.3 M179.5,277.9 v1.3 M181.25,277.9 v1.3 M183,277.9 v1.3 M184.75,277.9 v1.3 M186.5,277.9 v1.3 M188.25,277.9 v1.3 M190,277.9 v1.3 M191.75,277.9 v1.3 M193.5,277.9 v1.3 M195.25,277.9 v1.3 M197,277.9 v1.3 M198.75,277.9 v1.3" stroke="#444" stroke-width="0.45"/>
<text x="60.2" y="286.7" font-family="Liberation Serif, Times New Roman, serif" font-size="5.9" font-weight="bold" text-anchor="middle" fill="#1a1a1a">0.02</text>
<text x="78.3" y="286.7" font-family="Liberation Serif, Times New Roman, serif" font-size="5.9" font-weight="bold" text-anchor="middle" fill="#1a1a1a">0.03</text>
<text x="96.2" y="286.7" font-family="Liberation Serif, Times New Roman, serif" font-size="5.9" font-weight="bold" text-anchor="middle" fill="#1a1a1a">0.06</text>
<text x="114.5" y="286.7" font-family="Liberation Serif, Times New Roman, serif" font-size="5.9" font-weight="bold" text-anchor="middle" fill="#1a1a1a">0.13</text>
<text x="131.8" y="286.7" font-family="Liberation Serif, Times New Roman, serif" font-size="5.9" font-weight="bold" text-anchor="middle" fill="#1a1a1a">0.25</text>
<text x="149.5" y="286.7" font-family="Liberation Serif, Times New Roman, serif" font-size="5.9" font-weight="bold" text-anchor="middle" fill="#1a1a1a">0.50</text>
<text x="166.9" y="286.7" font-family="Liberation Serif, Times New Roman, serif" font-size="5.9" font-weight="bold" text-anchor="middle" fill="#1a1a1a">1.00</text>
<text x="184.5" y="286.7" font-family="Liberation Serif, Times New Roman, serif" font-size="5.9" font-weight="bold" text-anchor="middle" fill="#1a1a1a">2.00</text>
<text x="124.6" y="297.1" font-family="Liberation Serif, Times New Roman, serif" font-size="6.8" text-anchor="middle" fill="#1a1a1a"><tspan font-style="italic">h</tspan>(mm)</text>
<text transform="translate(22.2 214.3) rotate(-90)" font-family="Liberation Sans, Arial, sans-serif" font-size="6.6" text-anchor="middle" fill="#2a2a2a" textLength="31.5" lengthAdjust="spacingAndGlyphs"><tspan font-style="italic">K</tspan><tspan font-size="4" dy="1.2">r</tspan><tspan dy="-1.2">(W/m</tspan><tspan font-size="4" dy="-2">3</tspan><tspan dy="2">K)</tspan></text>
<path d="M48.5,266.5 C72.75,266.62 169.75,267.08 194,267.2" fill="none" stroke="#e8a0e8" stroke-width="1.2" stroke-dasharray="4 3.5" stroke-dashoffset="5.8"/>
<path d="M48.5,254.1 C61.25,254.17 110.57,254.33 125,254.5 C139.43,254.67 132.25,254.7 135.1,255.1 C137.95,255.5 139.55,256.12 142.1,256.9 C144.65,257.68 146.68,258.57 150.4,259.8 C154.12,261.03 160.48,263.13 164.4,264.3 C168.32,265.47 168.97,266.3 173.9,266.8 C178.83,267.3 190.65,267.22 194,267.3" fill="none" stroke="#623242" stroke-width="1.2" stroke-dasharray="4 3.5" stroke-dashoffset="5.8"/>
<path d="M48.5,239.3 C59.92,239.42 104.25,239.55 117,240 C129.75,240.45 122,240.83 125,242 C128,243.17 131.67,245.17 135,247 C138.33,248.83 141.27,250.83 145,253 C148.73,255.17 152.9,258.03 157.4,260 C161.9,261.97 165.9,263.58 172,264.8 C178.1,266.02 190.33,266.88 194,267.3" fill="none" stroke="#e2dca8" stroke-width="1.2" stroke-dasharray="4 3.5" stroke-dashoffset="5.8"/>
<path d="M48.5,225 C53.75,224.98 69.8,224.85 80,224.9 C90.2,224.95 103.7,224.95 109.7,225.3 C115.7,225.65 113.82,226.22 116,227 C118.18,227.78 120.47,228.5 122.8,230 C125.13,231.5 127.83,234.25 130,236 C132.17,237.75 133.3,238.08 135.8,240.5 C138.3,242.92 141.4,247.32 145,250.5 C148.6,253.68 152.9,257.25 157.4,259.6 C161.9,261.95 165.9,263.32 172,264.6 C178.1,265.88 190.33,266.85 194,267.3" fill="none" stroke="#7ed4b6" stroke-width="1.2" stroke-dasharray="4 3.5" stroke-dashoffset="5.8"/>
<path d="M48.5,206.6 C53.75,206.9 71.65,207.95 80,208.4 C88.35,208.85 93.95,208.8 98.6,209.3 C103.25,209.8 104.65,209.92 107.9,211.4 C111.15,212.88 114.7,215.2 118.1,218.2 C121.5,221.2 125.4,225.93 128.3,229.4 C131.2,232.87 132.72,235.57 135.5,239 C138.28,242.43 141.35,246.63 145,250 C148.65,253.37 152.9,256.82 157.4,259.2 C161.9,261.58 167.23,263 172,264.3 C176.77,265.6 182.33,266.5 186,267 C189.67,267.5 192.67,267.25 194,267.3" fill="none" stroke="#e08c52" stroke-width="1.2" stroke-dasharray="4 3.5" stroke-dashoffset="5.8"/>
<path d="M48.5,264.4 C70.42,264.43 155.75,264.17 180,264.6 C204.25,265.03 191.67,266.6 194,267" fill="none" stroke="#d890d8" stroke-width="1.1"/>
<path d="M48.5,243 C62.08,243.02 113.75,243.03 130,243.1 C146.25,243.17 141.85,243.25 146,243.4 C150.15,243.55 151.92,243.23 154.9,244 C157.88,244.77 161.38,246.67 163.9,248 C166.42,249.33 167.67,250.38 170,252 C172.33,253.62 174.73,255.7 177.9,257.7 C181.07,259.7 186.32,262.45 189,264 C191.68,265.55 193.17,266.5 194,267" fill="none" stroke="#703848" stroke-width="1.1"/>
<path d="M48.5,217.3 C60.75,217.3 107.75,217.25 122,217.3 C136.25,217.35 130.4,217.38 134,217.6 C137.6,217.82 141.18,218.15 143.6,218.6 C146.02,219.05 146.93,219.48 148.5,220.3 C150.07,221.12 151.08,221.72 153,223.5 C154.92,225.28 157.23,228.13 160,231 C162.77,233.87 166.77,237.62 169.6,240.7 C172.43,243.78 174.52,246.7 177,249.5 C179.48,252.3 181.63,254.62 184.5,257.5 C187.37,260.38 192.58,265.25 194.2,266.8" fill="none" stroke="#e6e294" stroke-width="1.1"/>
<path d="M48.5,191.2 C59.08,191.22 99.08,191.2 112,191.3 C124.92,191.4 122.33,191.53 126,191.8 C129.67,192.07 131.53,192.45 134,192.9 C136.47,193.35 138.92,193.68 140.8,194.5 C142.68,195.32 143.9,196.48 145.3,197.8 C146.7,199.12 147.83,200.45 149.2,202.4 C150.57,204.35 152.23,207.32 153.5,209.5 C154.77,211.68 155.05,212.25 156.8,215.5 C158.55,218.75 161.45,224.83 164,229 C166.55,233.17 169.68,237.08 172.1,240.5 C174.52,243.92 176.35,246.7 178.5,249.5 C180.65,252.3 182.38,254.42 185,257.3 C187.62,260.18 192.67,265.22 194.2,266.8" fill="none" stroke="#66ca96" stroke-width="1.1"/>
<path d="M48.5,165.2 C59.08,165.22 99.42,165.2 112,165.3 C124.58,165.4 120.83,165.5 124,165.8 C127.17,166.1 128.85,166.48 131,167.1 C133.15,167.72 135.07,168.32 136.9,169.5 C138.73,170.68 140.32,172.28 142,174.2 C143.68,176.12 145.25,177.7 147,181 C148.75,184.3 150.92,189.92 152.5,194 C154.08,198.08 155.32,202 156.5,205.5 C157.68,209 158.02,211.08 159.6,215 C161.18,218.92 163.63,224.75 166,229 C168.37,233.25 171.47,237.08 173.8,240.5 C176.13,243.92 177.97,246.72 180,249.5 C182.03,252.28 183.63,254.32 186,257.2 C188.37,260.08 192.83,265.2 194.2,266.8" fill="none" stroke="#d84a62" stroke-width="1.1"/>
<path d="M136.9,167.5 l1.6,2.7 h-3.2 Z" fill="#111"/>
<path d="M140.8,192.5 l1.6,2.7 h-3.2 Z" fill="#111"/>
<path d="M143.6,216.7 l1.6,2.7 h-3.2 Z" fill="#111"/>
<path d="M154.9,242 l1.6,2.7 h-3.2 Z" fill="#111"/>
<path d="M180.9,262.5 l1.6,2.7 h-3.2 Z" fill="#111"/>
<path d="M118.1,216.7 l1.3,1.5 l-1.3,1.5 l-1.3,-1.5 Z" fill="#111"/>
<path d="M122.8,228.5 l1.3,1.5 l-1.3,1.5 l-1.3,-1.5 Z" fill="#111"/>
<path d="M132,242.9 l1.3,1.5 l-1.3,1.5 l-1.3,-1.5 Z" fill="#111"/>
<path d="M142.1,255.4 l1.3,1.5 l-1.3,1.5 l-1.3,-1.5 Z" fill="#111"/>
<path d="M173.9,265.8 l1.3,1.5 l-1.3,1.5 l-1.3,-1.5 Z" fill="#111"/>
<rect x="173.4" y="161.3" width="49.6" height="79.4" fill="#fff" stroke="#bbb" stroke-width="0.6"/>
<path d="M174.2,165.9 H189" stroke="#d890d8" stroke-width="1.1"/>
<text x="189.2" y="168.1" font-family="Liberation Serif, Times New Roman, serif" font-size="6.3" fill="#1a1a1a" stroke="#1a1a1a" stroke-width="0.12">AA f=5Hz</text>
<path d="M174.2,173.74 H189" stroke="#703848" stroke-width="1.1"/>
<text x="189.2" y="175.94" font-family="Liberation Serif, Times New Roman, serif" font-size="6.3" fill="#1a1a1a" stroke="#1a1a1a" stroke-width="0.12">AA f=30Hz</text>
<path d="M174.2,181.58 H189" stroke="#e6e294" stroke-width="1.1"/>
<text x="189.2" y="183.78" font-family="Liberation Serif, Times New Roman, serif" font-size="6.3" fill="#1a1a1a" stroke="#1a1a1a" stroke-width="0.12">AA f=60Hz</text>
<path d="M174.2,189.42 H189" stroke="#66ca96" stroke-width="1.1"/>
<text x="189.2" y="191.62" font-family="Liberation Serif, Times New Roman, serif" font-size="6.3" fill="#1a1a1a" stroke="#1a1a1a" stroke-width="0.12">AA f=90Hz</text>
<path d="M174.2,197.26 H189" stroke="#d84a62" stroke-width="1.1"/>
<text x="189.2" y="199.46" font-family="Liberation Serif, Times New Roman, serif" font-size="6.3" fill="#1a1a1a" stroke="#1a1a1a" stroke-width="0.12">AA f=120Hz</text>
<path d="M174.3,205.1 H178.2 M181.3,205.1 H185.2" stroke="#e8a0e8" stroke-width="1.1"/>
<text x="189.2" y="207.3" font-family="Liberation Serif, Times New Roman, serif" font-size="6.3" fill="#1a1a1a" stroke="#1a1a1a" stroke-width="0.12">CF f=5Hz</text>
<path d="M174.3,212.94 H178.2 M181.3,212.94 H185.2" stroke="#623242" stroke-width="1.1"/>
<text x="189.2" y="215.14" font-family="Liberation Serif, Times New Roman, serif" font-size="6.3" fill="#1a1a1a" stroke="#1a1a1a" stroke-width="0.12">CF f=30Hz</text>
<path d="M174.3,220.78 H178.2 M181.3,220.78 H185.2" stroke="#e2dca8" stroke-width="1.1"/>
<text x="189.2" y="222.98" font-family="Liberation Serif, Times New Roman, serif" font-size="6.3" fill="#1a1a1a" stroke="#1a1a1a" stroke-width="0.12">CF f=60Hz</text>
<path d="M174.3,228.62 H178.2 M181.3,228.62 H185.2" stroke="#7ed4b6" stroke-width="1.1"/>
<text x="189.2" y="230.82" font-family="Liberation Serif, Times New Roman, serif" font-size="6.3" fill="#1a1a1a" stroke="#1a1a1a" stroke-width="0.12">CF f=90Hz</text>
<path d="M174.3,236.46 H178.2 M181.3,236.46 H185.2" stroke="#e08c52" stroke-width="1.1"/>
<text x="189.2" y="238.66" font-family="Liberation Serif, Times New Roman, serif" font-size="6.3" fill="#1a1a1a" stroke="#1a1a1a" stroke-width="0.12">CF f=120Hz</text>
<path d="M353.5,145 V276 M440.3,145 V276" stroke="#d6d6d6" stroke-width="0.6"/>
<path d="M318.3,150 V276.5 H474.7" fill="none" stroke="#444" stroke-width="0.6"/>
<path d="M316.4,268.1 H318.3" stroke="#444" stroke-width="0.6"/>
<path d="M317.2,260.25 H318.3" stroke="#444" stroke-width="0.5"/>
<text x="313.2" y="272.1" font-family="Liberation Sans, Arial, sans-serif" font-size="5.6" text-anchor="end" fill="#1a1a1a">0.0</text>
<path d="M316.4,252.4 H318.3" stroke="#444" stroke-width="0.6"/>
<path d="M317.2,244.55 H318.3" stroke="#444" stroke-width="0.5"/>
<text x="311.6" y="256.4" font-family="Liberation Sans, Arial, sans-serif" font-size="5.6" text-anchor="end" fill="#1a1a1a">5.0x10</text>
<text x="311.9" y="252.7" font-family="Liberation Sans, Arial, sans-serif" font-size="3.5" fill="#1a1a1a">4</text>
<path d="M316.4,236.7 H318.3" stroke="#444" stroke-width="0.6"/>
<path d="M317.2,228.85 H318.3" stroke="#444" stroke-width="0.5"/>
<text x="311.6" y="240.7" font-family="Liberation Sans, Arial, sans-serif" font-size="5.6" text-anchor="end" fill="#1a1a1a">1.0x10</text>
<text x="311.9" y="237" font-family="Liberation Sans, Arial, sans-serif" font-size="3.5" fill="#1a1a1a">5</text>
<path d="M316.4,221 H318.3" stroke="#444" stroke-width="0.6"/>
<path d="M317.2,213.15 H318.3" stroke="#444" stroke-width="0.5"/>
<text x="311.6" y="225" font-family="Liberation Sans, Arial, sans-serif" font-size="5.6" text-anchor="end" fill="#1a1a1a">1.5x10</text>
<text x="311.9" y="221.3" font-family="Liberation Sans, Arial, sans-serif" font-size="3.5" fill="#1a1a1a">5</text>
<path d="M316.4,205.3 H318.3" stroke="#444" stroke-width="0.6"/>
<path d="M317.2,197.45 H318.3" stroke="#444" stroke-width="0.5"/>
<text x="311.6" y="209.3" font-family="Liberation Sans, Arial, sans-serif" font-size="5.6" text-anchor="end" fill="#1a1a1a">2.0x10</text>
<text x="311.9" y="205.6" font-family="Liberation Sans, Arial, sans-serif" font-size="3.5" fill="#1a1a1a">5</text>
<path d="M316.4,189.6 H318.3" stroke="#444" stroke-width="0.6"/>
<path d="M317.2,181.75 H318.3" stroke="#444" stroke-width="0.5"/>
<text x="311.6" y="193.6" font-family="Liberation Sans, Arial, sans-serif" font-size="5.6" text-anchor="end" fill="#1a1a1a">2.5x10</text>
<text x="311.9" y="189.9" font-family="Liberation Sans, Arial, sans-serif" font-size="3.5" fill="#1a1a1a">5</text>
<path d="M316.4,173.9 H318.3" stroke="#444" stroke-width="0.6"/>
<path d="M317.2,166.05 H318.3" stroke="#444" stroke-width="0.5"/>
<text x="311.6" y="177.9" font-family="Liberation Sans, Arial, sans-serif" font-size="5.6" text-anchor="end" fill="#1a1a1a">3.0x10</text>
<text x="311.9" y="174.2" font-family="Liberation Sans, Arial, sans-serif" font-size="3.5" fill="#1a1a1a">5</text>
<path d="M316.4,158.2 H318.3" stroke="#444" stroke-width="0.6"/>
<path d="M317.2,150.35 H318.3" stroke="#444" stroke-width="0.5"/>
<text x="311.6" y="162.2" font-family="Liberation Sans, Arial, sans-serif" font-size="5.6" text-anchor="end" fill="#1a1a1a">3.5x10</text>
<text x="311.9" y="158.5" font-family="Liberation Sans, Arial, sans-serif" font-size="3.5" fill="#1a1a1a">5</text>
<path d="M318.3,276.5 v1.6" stroke="#444" stroke-width="0.5"/>
<path d="M335.6,276.5 v1" stroke="#444" stroke-width="0.5"/>
<text x="318.3" y="285.4" font-family="Liberation Serif, Times New Roman, serif" font-size="6.6" text-anchor="middle" fill="#1a1a1a">0</text>
<path d="M353.5,276.5 v1.6" stroke="#444" stroke-width="0.5"/>
<path d="M370.8,276.5 v1" stroke="#444" stroke-width="0.5"/>
<text x="353.5" y="285.4" font-family="Liberation Serif, Times New Roman, serif" font-size="6.6" text-anchor="middle" fill="#1a1a1a">1</text>
<path d="M388.2,276.5 v1.6" stroke="#444" stroke-width="0.5"/>
<path d="M405.5,276.5 v1" stroke="#444" stroke-width="0.5"/>
<text x="388.2" y="285.4" font-family="Liberation Serif, Times New Roman, serif" font-size="6.6" text-anchor="middle" fill="#1a1a1a">2</text>
<path d="M422.7,276.5 v1.6" stroke="#444" stroke-width="0.5"/>
<path d="M440,276.5 v1" stroke="#444" stroke-width="0.5"/>
<text x="422.7" y="285.4" font-family="Liberation Serif, Times New Roman, serif" font-size="6.6" text-anchor="middle" fill="#1a1a1a">3</text>
<path d="M457.3,276.5 v1.6" stroke="#444" stroke-width="0.5"/>
<path d="M474.6,276.5 v1" stroke="#444" stroke-width="0.5"/>
<text x="457.3" y="285.4" font-family="Liberation Serif, Times New Roman, serif" font-size="6.6" text-anchor="middle" fill="#1a1a1a">4</text>
<text x="404.3" y="292.2" font-family="Liberation Serif, Times New Roman, serif" font-size="6.5" text-anchor="middle" fill="#1a1a1a"><tspan font-style="italic">h</tspan>(mm)</text>
<text transform="translate(291.2 210.2) rotate(-90)" font-family="Liberation Serif, Times New Roman, serif" font-size="6.4" text-anchor="middle" fill="#1a1a1a" textLength="28.7" lengthAdjust="spacingAndGlyphs"><tspan font-style="italic">K</tspan>(W/m<tspan font-size="4" dy="-2">3</tspan><tspan dy="2">K)</tspan></text>
<path d="M322.6,265.7 C345,265.3 420,265.3 449.5,265" fill="none" stroke="#e8d490" stroke-width="1.0" stroke-dasharray="4.2 3.5"/>
<path d="M453.8,263.8 L455.6,261.3 M454.4,260.8 L456,258.3" fill="none" stroke="#e8d490" stroke-width="0.9"/>
<path d="M322.6,266.4 C345,266 420,266 449.5,265.7" fill="none" stroke="#c454c8" stroke-width="1.0" stroke-dasharray="4.2 3.5"/>
<path d="M453.8,264.5 L455.6,262 M454.4,261.5 L456,259" fill="none" stroke="#c454c8" stroke-width="0.9"/>
<path d="M322.6,261 C345,260.6 420,260.6 449.5,260.3" fill="none" stroke="#8c6a5c" stroke-width="1.25" stroke-dasharray="4.2 3.5"/>
<path d="M453.8,259.1 L455.6,256.6 M454.4,256.1 L456,253.6" fill="none" stroke="#8c6a5c" stroke-width="0.9"/>
<path d="M322.6,262.1 C345,261.7 420,261.7 449.5,261.4" fill="none" stroke="#5a7a78" stroke-width="1.25" stroke-dasharray="4.2 3.5"/>
<path d="M453.8,260.2 L455.6,257.7 M454.4,257.2 L456,254.7" fill="none" stroke="#5a7a78" stroke-width="0.9"/>
<path d="M322.6,263.2 C345,262.8 420,262.8 449.5,262.5" fill="none" stroke="#34467e" stroke-width="1.25" stroke-dasharray="4.2 3.5"/>
<path d="M453.8,261.3 L455.6,258.8 M454.4,258.3 L456,255.8" fill="none" stroke="#34467e" stroke-width="0.9"/>
<path d="M319.5,267.3 C322.08,266.75 329.33,265.25 335,264 C340.67,262.75 346.33,261.25 353.5,259.8 C360.67,258.35 368.73,256.23 378,255.3 C387.27,254.37 401.27,254.55 409.1,254.2 C416.93,253.85 420.73,253.75 425,253.2 C429.27,252.65 431.37,251.68 434.7,250.9 C438.03,250.12 442.37,249.48 445,248.5 C447.63,247.52 449.03,247.25 450.5,245 C451.97,242.75 453,239.17 453.8,235 C454.6,230.83 454.82,226.05 455.3,220 C455.78,213.95 456.47,202.25 456.7,198.7" fill="none" stroke="#d45ae0" stroke-width="1.2"/>
<path d="M319.5,267 C320.58,266.33 323.67,264.25 326,263 C328.33,261.75 331,261 333.5,259.5 C336,258 338.43,255.72 341,254 C343.57,252.28 346.4,250.33 348.9,249.2 C351.4,248.07 353.68,247.6 356,247.2 C358.32,246.8 359.13,246.63 362.8,246.8 C366.47,246.97 370.28,247.83 378,248.2 C385.72,248.57 401.27,249.2 409.1,249 C416.93,248.8 420.73,247.85 425,247 C429.27,246.15 431.37,244.98 434.7,243.9 C438.03,242.82 442.37,241.98 445,240.5 C447.63,239.02 449.12,238.05 450.5,235 C451.88,231.95 452.55,227.63 453.3,222.2 C454.05,216.77 454.55,209.1 455,202.4 C455.45,195.7 455.83,185.4 456,182" fill="none" stroke="#f4f25a" stroke-width="1.2"/>
<path d="M319.5,267 C320.58,265.25 323.67,259.9 326,256.5 C328.33,253.1 331.17,249.13 333.5,246.6 C335.83,244.07 337.68,242.5 340,241.3 C342.32,240.1 344.9,239.57 347.4,239.4 C349.9,239.23 352.17,239.87 355,240.3 C357.83,240.73 360.57,241.52 364.4,242 C368.23,242.48 370.55,243.4 378,243.2 C385.45,243 401.27,241.4 409.1,240.8 C416.93,240.2 420.73,240.08 425,239.6 C429.27,239.12 431.53,238.75 434.7,237.9 C437.87,237.05 441.53,235.98 444,234.5 C446.47,233.02 448.05,231.45 449.5,229 C450.95,226.55 451.87,224.63 452.7,219.8 C453.53,214.97 454.03,206.97 454.5,200 C454.97,193.03 455.33,181.67 455.5,178" fill="none" stroke="#2e3592" stroke-width="1.2"/>
<path d="M319.5,267 C320.42,264.92 322.92,258.58 325,254.5 C327.08,250.42 330,245.53 332,242.5 C334,239.47 335.47,237.8 337,236.3 C338.53,234.8 339.53,233.78 341.2,233.5 C342.87,233.22 344.95,234.08 347,234.6 C349.05,235.12 348.33,236.02 353.5,236.6 C358.67,237.18 368.73,238.32 378,238.1 C387.27,237.88 401.27,235.88 409.1,235.3 C416.93,234.72 420.73,235.17 425,234.6 C429.27,234.03 431.7,232.8 434.7,231.9 C437.7,231 440.7,230.38 443,229.2 C445.3,228.02 446.97,227.17 448.5,224.8 C450.03,222.43 451.25,219.97 452.2,215 C453.15,210.03 453.67,202.17 454.2,195 C454.73,187.83 455.2,175.83 455.4,172" fill="none" stroke="#4fdd4f" stroke-width="1.2"/>
<path d="M319.5,267 C320.25,264.67 322.25,257.75 324,253 C325.75,248.25 328.25,242.17 330,238.5 C331.75,234.83 333.02,232.73 334.5,231 C335.98,229.27 337.15,228.35 338.9,228.1 C340.65,227.85 342.57,228.78 345,229.5 C347.43,230.22 350.17,231.73 353.5,232.4 C356.83,233.07 360.92,233.32 365,233.5 C369.08,233.68 370.65,233.77 378,233.5 C385.35,233.23 401.27,232.53 409.1,231.9 C416.93,231.27 420.73,230.35 425,229.7 C429.27,229.05 432.03,228.58 434.7,228 C437.37,227.42 439.03,227.2 441,226.2 C442.97,225.2 444.83,224.03 446.5,222 C448.17,219.97 449.83,217.17 451,214 C452.17,210.83 452.85,207.83 453.5,203 C454.15,198.17 454.48,191.83 454.9,185 C455.32,178.17 455.82,165.83 456,162" fill="none" stroke="#cf5a3c" stroke-width="1.2"/>
<rect x="374.3" y="145.6" width="44" height="70.4" fill="#fff" stroke="#c4c4c4" stroke-width="0.6"/>
<path d="M375.2,149.7 H388.6" stroke="#d45ae0" stroke-width="1.35"/>
<text x="388.8" y="151.7" font-family="Liberation Serif, Times New Roman, serif" font-size="5.6" fill="#1a1a1a" stroke="#1a1a1a" stroke-width="0.1">AA f=10Hz</text>
<path d="M375.2,156.63 H388.6" stroke="#f4f25a" stroke-width="1.35"/>
<text x="388.8" y="158.63" font-family="Liberation Serif, Times New Roman, serif" font-size="5.6" fill="#1a1a1a" stroke="#1a1a1a" stroke-width="0.1">AA f=30Hz</text>
<path d="M375.2,163.56 H388.6" stroke="#2e3592" stroke-width="1.35"/>
<text x="388.8" y="165.56" font-family="Liberation Serif, Times New Roman, serif" font-size="5.6" fill="#1a1a1a" stroke="#1a1a1a" stroke-width="0.1">AA f=60Hz</text>
<path d="M375.2,170.49 H388.6" stroke="#4fdd4f" stroke-width="1.35"/>
<text x="388.8" y="172.49" font-family="Liberation Serif, Times New Roman, serif" font-size="5.6" fill="#1a1a1a" stroke="#1a1a1a" stroke-width="0.1">AA f=90Hz</text>
<path d="M375.2,177.42 H388.6" stroke="#cf5a3c" stroke-width="1.35"/>
<text x="388.8" y="179.42" font-family="Liberation Serif, Times New Roman, serif" font-size="5.6" fill="#1a1a1a" stroke="#1a1a1a" stroke-width="0.1">AA f=120Hz</text>
<path d="M375.3,184.35 H378.8 M382.8,184.35 H388.6" stroke="#d45ae0" stroke-width="1.35"/>
<text x="388.8" y="186.35" font-family="Liberation Serif, Times New Roman, serif" font-size="5.6" fill="#1a1a1a" stroke="#1a1a1a" stroke-width="0.1">CF f=10Hz</text>
<path d="M375.3,191.28 H378.8 M382.8,191.28 H388.6" stroke="#f4f25a" stroke-width="1.35"/>
<text x="388.8" y="193.28" font-family="Liberation Serif, Times New Roman, serif" font-size="5.6" fill="#1a1a1a" stroke="#1a1a1a" stroke-width="0.1">CF f=30Hz</text>
<path d="M375.3,198.21 H378.8 M382.8,198.21 H388.6" stroke="#2e3592" stroke-width="1.35"/>
<text x="388.8" y="200.21" font-family="Liberation Serif, Times New Roman, serif" font-size="5.6" fill="#1a1a1a" stroke="#1a1a1a" stroke-width="0.1">CF f=60Hz</text>
<path d="M375.3,205.14 H378.8 M382.8,205.14 H388.6" stroke="#4fdd4f" stroke-width="1.35"/>
<text x="388.8" y="207.14" font-family="Liberation Serif, Times New Roman, serif" font-size="5.6" fill="#1a1a1a" stroke="#1a1a1a" stroke-width="0.1">CF f=90Hz</text>
<path d="M375.3,212.07 H378.8 M382.8,212.07 H388.6" stroke="#cf5a3c" stroke-width="1.35"/>
<text x="388.8" y="214.07" font-family="Liberation Serif, Times New Roman, serif" font-size="5.6" fill="#1a1a1a" stroke="#1a1a1a" stroke-width="0.1">CF f=120Hz</text>
<text x="326" y="224.9" font-family="Liberation Serif, Times New Roman, serif" font-size="6.9" fill="#1a1a1a" textLength="21.4" lengthAdjust="spacingAndGlyphs">unstable</text>
<text x="391.9" y="224.8" font-family="Liberation Serif, Times New Roman, serif" font-size="6.9" fill="#1a1a1a" textLength="15.1" lengthAdjust="spacingAndGlyphs">stable</text>
<text x="458.8" y="222.7" font-family="Liberation Serif, Times New Roman, serif" font-size="6.9" fill="#1a1a1a" textLength="21.8" lengthAdjust="spacingAndGlyphs">unstable</text>
<text x="368.4" y="315" font-family="Liberation Serif, Times New Roman, serif" font-size="6.3" text-anchor="middle" fill="#2a2a2a" style="stroke:none" textLength="33" lengthAdjust="spacingAndGlyphs">Heat transfer</text>
</svg>
</body></html>
